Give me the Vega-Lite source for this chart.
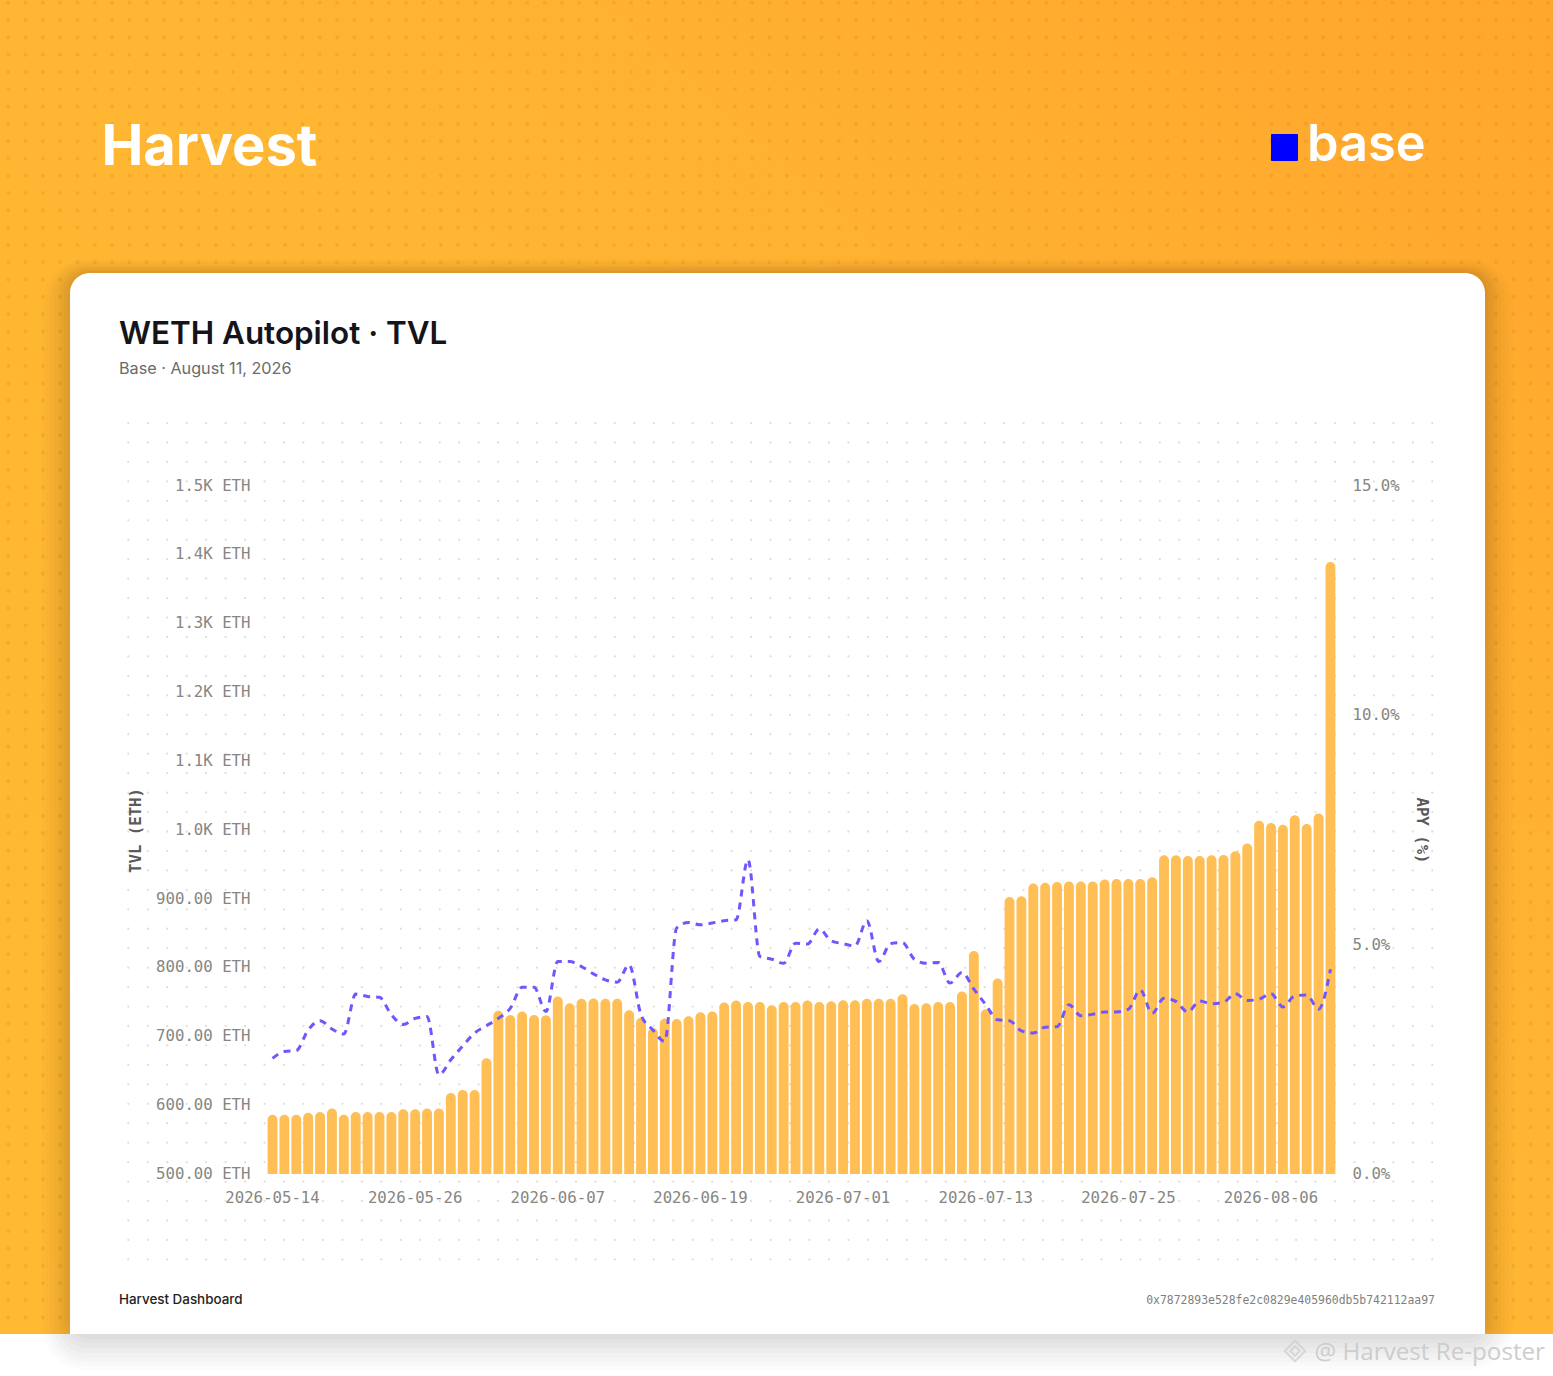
{
  "$schema": "https://vega.github.io/schema/vega-lite/v6.json",
  "width": 1553,
  "height": 1376,
  "padding": 0,
  "autosize": {"type": "none"},
  "background": "#ffffff",
  "config": {
    "view": {
      "stroke": null,
      "fill": {
        "gradient": "linear",
        "x1": 0, "y1": 1, "x2": 1, "y2": 0,
        "stops": [
          {"offset": 0, "color": "#FFBA33"},
          {"offset": 0.55, "color": "#FFB632"},
          {"offset": 1, "color": "#FFA62D"}
        ]
      }
    }
  },
  "datasets": {
    "daily": [
      {"date": "2026-05-14", "tvl": 586, "apy": 2.52},
      {"date": "2026-05-15", "tvl": 586, "apy": 2.67},
      {"date": "2026-05-16", "tvl": 586, "apy": 2.69},
      {"date": "2026-05-17", "tvl": 589, "apy": 3.14},
      {"date": "2026-05-18", "tvl": 590, "apy": 3.34},
      {"date": "2026-05-19", "tvl": 595, "apy": 3.16},
      {"date": "2026-05-20", "tvl": 586, "apy": 3.05},
      {"date": "2026-05-21", "tvl": 590, "apy": 3.92},
      {"date": "2026-05-22", "tvl": 590, "apy": 3.87},
      {"date": "2026-05-23", "tvl": 590, "apy": 3.85},
      {"date": "2026-05-24", "tvl": 590, "apy": 3.47},
      {"date": "2026-05-25", "tvl": 594, "apy": 3.26},
      {"date": "2026-05-26", "tvl": 594, "apy": 3.39},
      {"date": "2026-05-27", "tvl": 595, "apy": 3.43},
      {"date": "2026-05-28", "tvl": 595, "apy": 2.16},
      {"date": "2026-05-29", "tvl": 617.5, "apy": 2.49},
      {"date": "2026-05-30", "tvl": 622, "apy": 2.79},
      {"date": "2026-05-31", "tvl": 622, "apy": 3.07},
      {"date": "2026-06-01", "tvl": 668, "apy": 3.23},
      {"date": "2026-06-02", "tvl": 737, "apy": 3.39},
      {"date": "2026-06-03", "tvl": 731, "apy": 3.61},
      {"date": "2026-06-04", "tvl": 736, "apy": 4.07},
      {"date": "2026-06-05", "tvl": 731, "apy": 4.07},
      {"date": "2026-06-06", "tvl": 730.5, "apy": 3.54},
      {"date": "2026-06-07", "tvl": 758, "apy": 4.63},
      {"date": "2026-06-08", "tvl": 748, "apy": 4.63},
      {"date": "2026-06-09", "tvl": 754.5, "apy": 4.52},
      {"date": "2026-06-10", "tvl": 755, "apy": 4.36},
      {"date": "2026-06-11", "tvl": 754.5, "apy": 4.23},
      {"date": "2026-06-12", "tvl": 754.5, "apy": 4.18},
      {"date": "2026-06-13", "tvl": 738, "apy": 4.56},
      {"date": "2026-06-14", "tvl": 727, "apy": 3.47},
      {"date": "2026-06-15", "tvl": 712, "apy": 3.14},
      {"date": "2026-06-16", "tvl": 726, "apy": 2.89},
      {"date": "2026-06-17", "tvl": 725, "apy": 5.36},
      {"date": "2026-06-18", "tvl": 729, "apy": 5.48},
      {"date": "2026-06-19", "tvl": 735, "apy": 5.43},
      {"date": "2026-06-20", "tvl": 736, "apy": 5.47},
      {"date": "2026-06-21", "tvl": 749, "apy": 5.52},
      {"date": "2026-06-22", "tvl": 752, "apy": 5.54},
      {"date": "2026-06-23", "tvl": 750, "apy": 6.85},
      {"date": "2026-06-24", "tvl": 750, "apy": 4.74},
      {"date": "2026-06-25", "tvl": 745, "apy": 4.68},
      {"date": "2026-06-26", "tvl": 750, "apy": 4.59},
      {"date": "2026-06-27", "tvl": 750, "apy": 5.03},
      {"date": "2026-06-28", "tvl": 752, "apy": 5.01},
      {"date": "2026-06-29", "tvl": 750, "apy": 5.34},
      {"date": "2026-06-30", "tvl": 751, "apy": 5.08},
      {"date": "2026-07-01", "tvl": 752.5, "apy": 5.02},
      {"date": "2026-07-02", "tvl": 752.5, "apy": 4.97},
      {"date": "2026-07-03", "tvl": 754.5, "apy": 5.52},
      {"date": "2026-07-04", "tvl": 754.5, "apy": 4.63},
      {"date": "2026-07-05", "tvl": 754.5, "apy": 5.02},
      {"date": "2026-07-06", "tvl": 761, "apy": 5.04},
      {"date": "2026-07-07", "tvl": 747, "apy": 4.68},
      {"date": "2026-07-08", "tvl": 748, "apy": 4.59},
      {"date": "2026-07-09", "tvl": 750, "apy": 4.61},
      {"date": "2026-07-10", "tvl": 750, "apy": 4.16},
      {"date": "2026-07-11", "tvl": 765, "apy": 4.39},
      {"date": "2026-07-12", "tvl": 824, "apy": 4.03},
      {"date": "2026-07-13", "tvl": 739.5, "apy": 3.69},
      {"date": "2026-07-14", "tvl": 784, "apy": 3.36},
      {"date": "2026-07-15", "tvl": 902.5, "apy": 3.34},
      {"date": "2026-07-16", "tvl": 903.5, "apy": 3.12},
      {"date": "2026-07-17", "tvl": 922, "apy": 3.07},
      {"date": "2026-07-18", "tvl": 923, "apy": 3.2},
      {"date": "2026-07-19", "tvl": 924, "apy": 3.21},
      {"date": "2026-07-20", "tvl": 925, "apy": 3.69},
      {"date": "2026-07-21", "tvl": 925, "apy": 3.45},
      {"date": "2026-07-22", "tvl": 925, "apy": 3.48},
      {"date": "2026-07-23", "tvl": 927.7, "apy": 3.53},
      {"date": "2026-07-24", "tvl": 928.7, "apy": 3.53},
      {"date": "2026-07-25", "tvl": 928.7, "apy": 3.59},
      {"date": "2026-07-26", "tvl": 928.7, "apy": 4.01},
      {"date": "2026-07-27", "tvl": 931, "apy": 3.5},
      {"date": "2026-07-28", "tvl": 963, "apy": 3.83},
      {"date": "2026-07-29", "tvl": 963, "apy": 3.76},
      {"date": "2026-07-30", "tvl": 962, "apy": 3.53},
      {"date": "2026-07-31", "tvl": 962, "apy": 3.77},
      {"date": "2026-08-01", "tvl": 963, "apy": 3.71},
      {"date": "2026-08-02", "tvl": 963.5, "apy": 3.74},
      {"date": "2026-08-03", "tvl": 969, "apy": 3.93},
      {"date": "2026-08-04", "tvl": 980, "apy": 3.78},
      {"date": "2026-08-05", "tvl": 1013, "apy": 3.81},
      {"date": "2026-08-06", "tvl": 1010, "apy": 3.93},
      {"date": "2026-08-07", "tvl": 1007.5, "apy": 3.64},
      {"date": "2026-08-08", "tvl": 1021, "apy": 3.88},
      {"date": "2026-08-09", "tvl": 1008.5, "apy": 3.9},
      {"date": "2026-08-10", "tvl": 1023.5, "apy": 3.59},
      {"date": "2026-08-11", "tvl": 1389, "apy": 4.46}
    ],
    "pageDots": [
      {"col": 0}, {"col": 1}, {"col": 2}, {"col": 3}, {"col": 4}, {"col": 5}, {"col": 6}, {"col": 7}, {"col": 8}, {"col": 9},
      {"col": 10}, {"col": 11}, {"col": 12}, {"col": 13}, {"col": 14}, {"col": 15}, {"col": 16}, {"col": 17}, {"col": 18}, {"col": 19},
      {"col": 20}, {"col": 21}, {"col": 22}, {"col": 23}, {"col": 24}, {"col": 25}, {"col": 26}, {"col": 27}, {"col": 28}, {"col": 29},
      {"col": 30}, {"col": 31}, {"col": 32}, {"col": 33}, {"col": 34}, {"col": 35}, {"col": 36}, {"col": 37}, {"col": 38}, {"col": 39},
      {"col": 40}, {"col": 41}, {"col": 42}, {"col": 43}, {"col": 44}, {"col": 45}, {"col": 46}, {"col": 47}, {"col": 48}, {"col": 49},
      {"col": 50}, {"col": 51}, {"col": 52}, {"col": 53}, {"col": 54}, {"col": 55}, {"col": 56}, {"col": 57}, {"col": 58}, {"col": 59},
      {"col": 60}, {"col": 61}, {"col": 62}, {"col": 63}, {"col": 64}, {"col": 65}, {"col": 66}, {"col": 67}, {"col": 68}, {"col": 69},
      {"col": 70}, {"col": 71}, {"col": 72}, {"col": 73}, {"col": 74}, {"col": 75}, {"col": 76}, {"col": 77}, {"col": 78}, {"col": 79},
      {"col": 80}, {"col": 81}, {"col": 82}, {"col": 83}, {"col": 84}, {"col": 85}, {"col": 86}, {"col": 87}, {"col": 88}, {"col": 89}
    ],
    "cardDots": [
      {"col": 0}, {"col": 1}, {"col": 2}, {"col": 3}, {"col": 4}, {"col": 5}, {"col": 6}, {"col": 7}, {"col": 8}, {"col": 9},
      {"col": 10}, {"col": 11}, {"col": 12}, {"col": 13}, {"col": 14}, {"col": 15}, {"col": 16}, {"col": 17}, {"col": 18}, {"col": 19},
      {"col": 20}, {"col": 21}, {"col": 22}, {"col": 23}, {"col": 24}, {"col": 25}, {"col": 26}, {"col": 27}, {"col": 28}, {"col": 29},
      {"col": 30}, {"col": 31}, {"col": 32}, {"col": 33}, {"col": 34}, {"col": 35}, {"col": 36}, {"col": 37}, {"col": 38}, {"col": 39},
      {"col": 40}, {"col": 41}, {"col": 42}, {"col": 43}, {"col": 44}, {"col": 45}, {"col": 46}, {"col": 47}, {"col": 48}, {"col": 49},
      {"col": 50}, {"col": 51}, {"col": 52}, {"col": 53}, {"col": 54}, {"col": 55}, {"col": 56}, {"col": 57}, {"col": 58}, {"col": 59},
      {"col": 60}, {"col": 61}, {"col": 62}, {"col": 63}, {"col": 64}, {"col": 65}, {"col": 66}, {"col": 67}
    ]
  },
  "resolve": {"scale": {"x": "independent", "y": "independent"}},
  "layer": [
    {
      "data": {"name": "pageDots"},
      "mark": {"type": "rule", "color": "#B06A00", "opacity": 0.15, "strokeWidth": 4, "strokeCap": "round", "strokeDash": [0.1, 17.2]},
      "encoding": {
        "x": {"field": "col", "type": "quantitative", "axis": null, "scale": {"domain": [0, 89], "range": [8.3, 1548]}},
        "y": {"value": 2.7},
        "y2": {"value": 1334}
      }
    },
    {"data": {"values": [{"part": "strip"}]}, "mark": {"type": "rect", "color": "#ffffff"}, "encoding": {"x": {"value": 0}, "x2": {"value": 1553}, "y": {"value": 1334}, "y2": {"value": 1376}}},
    {"data": {"values": [{"part": "shadow"}]}, "mark": {"type": "rect", "color": "#000000", "opacity": 0.01, "cornerRadius": 44}, "encoding": {"x": {"value": 42}, "x2": {"value": 1513}, "y": {"value": 259}, "y2": {"value": 1370}}},
    {"data": {"values": [{"part": "shadow"}]}, "mark": {"type": "rect", "color": "#000000", "opacity": 0.012, "cornerRadius": 40}, "encoding": {"x": {"value": 46}, "x2": {"value": 1509}, "y": {"value": 261}, "y2": {"value": 1366}}},
    {"data": {"values": [{"part": "shadow"}]}, "mark": {"type": "rect", "color": "#000000", "opacity": 0.014, "cornerRadius": 36}, "encoding": {"x": {"value": 50}, "x2": {"value": 1505}, "y": {"value": 263}, "y2": {"value": 1362}}},
    {"data": {"values": [{"part": "shadow"}]}, "mark": {"type": "rect", "color": "#000000", "opacity": 0.016, "cornerRadius": 32}, "encoding": {"x": {"value": 54}, "x2": {"value": 1501}, "y": {"value": 265}, "y2": {"value": 1358}}},
    {"data": {"values": [{"part": "shadow"}]}, "mark": {"type": "rect", "color": "#000000", "opacity": 0.018, "cornerRadius": 28}, "encoding": {"x": {"value": 58}, "x2": {"value": 1497}, "y": {"value": 267}, "y2": {"value": 1353}}},
    {"data": {"values": [{"part": "shadow"}]}, "mark": {"type": "rect", "color": "#000000", "opacity": 0.018, "cornerRadius": 26}, "encoding": {"x": {"value": 61}, "x2": {"value": 1494}, "y": {"value": 268}, "y2": {"value": 1348}}},
    {"data": {"values": [{"part": "shadow"}]}, "mark": {"type": "rect", "color": "#000000", "opacity": 0.02, "cornerRadius": 24}, "encoding": {"x": {"value": 64}, "x2": {"value": 1491}, "y": {"value": 270}, "y2": {"value": 1343}}},
    {"data": {"values": [{"part": "shadow"}]}, "mark": {"type": "rect", "color": "#000000", "opacity": 0.02, "cornerRadius": 22}, "encoding": {"x": {"value": 67}, "x2": {"value": 1488}, "y": {"value": 271}, "y2": {"value": 1339}}},
    {"data": {"values": [{"part": "card"}]}, "mark": {"type": "rect", "color": "#ffffff", "cornerRadiusTopLeft": 20, "cornerRadiusTopRight": 20}, "encoding": {"x": {"value": 70}, "x2": {"value": 1485}, "y": {"value": 273}, "y2": {"value": 1334}}},
    {
      "data": {"name": "cardDots"},
      "mark": {"type": "rule", "color": "#DEDEDB", "strokeWidth": 2.2, "strokeCap": "round", "strokeDash": [0.1, 19.35]},
      "encoding": {
        "x": {"field": "col", "type": "quantitative", "axis": null, "scale": {"domain": [0, 67], "range": [128.3, 1432.3]}},
        "y": {"value": 423},
        "y2": {"value": 1264}
      }
    },
    {
      "data": {"name": "daily"},
      "mark": {"type": "bar", "color": "#FFBF55", "cornerRadiusTopLeft": 5, "cornerRadiusTopRight": 5},
      "encoding": {
        "x": {
          "field": "date",
          "type": "nominal",
          "scale": {"type": "band", "range": [266.56, 1336.4], "paddingInner": 0.17, "paddingOuter": 0.085},
          "axis": {
            "title": null,
            "orient": "bottom",
            "offset": -196,
            "zindex": 1,
            "domain": false,
            "ticks": false,
            "grid": false,
            "labelAngle": 0,
            "labelPadding": 10,
            "labelOverlap": false,
            "labelBound": false,
            "labelFlush": false,
            "labelFont": "DejaVu Sans Mono",
            "labelFontSize": 15.7,
            "labelColor": "#868682",
            "values": ["2026-05-14", "2026-05-26", "2026-06-07", "2026-06-19", "2026-07-01", "2026-07-13", "2026-07-25", "2026-08-06"]
          }
        },
        "y": {
          "field": "tvl",
          "type": "quantitative",
          "scale": {"domain": [500, 1500], "range": [1174, 485.6], "nice": false, "zero": false},
          "axis": {
            "title": "TVL (ETH)",
            "orient": "left",
            "offset": -250,
            "zindex": 1,
            "domain": false,
            "ticks": false,
            "grid": false,
            "labelPadding": 0,
            "labelOffset": -0.5,
            "labelFont": "DejaVu Sans Mono",
            "labelFontSize": 15.7,
            "labelColor": "#868682",
            "labelOverlap": false,
            "labelBound": false,
            "labelFlush": false,
            "values": [500, 600, 700, 800, 900, 1000, 1100, 1200, 1300, 1400, 1500],
            "labelExpr": "datum.value >= 1000 ? format(datum.value / 1000, '.1f') + 'K ETH' : format(datum.value, '.2f') + ' ETH'",
            "titleFont": "DejaVu Sans Mono",
            "titleFontSize": 15.7,
            "titleFontWeight": 600,
            "titleColor": "#5A5A5A",
            "titleAngle": -90,
            "titleAlign": "center",
            "titleBaseline": "middle",
            "titleX": -115,
            "titleY": 830
          }
        },
        "y2": {"datum": 500}
      }
    },
    {
      "data": {"name": "daily"},
      "mark": {"type": "line", "color": "#6E57FF", "strokeWidth": 3, "strokeDash": [7, 6], "interpolate": "monotone"},
      "encoding": {
        "x": {
          "field": "date",
          "type": "nominal",
          "axis": null,
          "scale": {"type": "band", "range": [266.56, 1336.4], "paddingInner": 0.17, "paddingOuter": 0.085}
        },
        "y": {
          "field": "apy",
          "type": "quantitative",
          "scale": {"domain": [0, 15], "range": [1174, 485.6], "nice": false},
          "axis": {
            "title": "APY (%)",
            "orient": "right",
            "offset": -201,
            "zindex": 1,
            "domain": false,
            "ticks": false,
            "grid": false,
            "labelPadding": 0,
            "labelOffset": -0.5,
            "labelFont": "DejaVu Sans Mono",
            "labelFontSize": 15.7,
            "labelColor": "#868682",
            "labelOverlap": false,
            "labelBound": false,
            "labelFlush": false,
            "values": [0, 5, 10, 15],
            "labelExpr": "format(datum.value, '.1f') + '%'",
            "titleFont": "DejaVu Sans Mono",
            "titleFontSize": 15.7,
            "titleFontWeight": 600,
            "titleColor": "#5A5A5A",
            "titleAngle": 90,
            "titleAlign": "center",
            "titleBaseline": "middle",
            "titleX": 69,
            "titleY": 830
          }
        }
      }
    },
    {"data": {"values": [{"part": "chain"}]}, "mark": {"type": "rect", "color": "#0000FF", "cornerRadius": 1}, "encoding": {"x": {"value": 1271}, "x2": {"value": 1298}, "y": {"value": 134}, "y2": {"value": 161}}},
    {"data": {"values": [{"label": "Harvest"}]}, "mark": {"type": "text", "align": "left", "baseline": "alphabetic", "font": "Inter", "fontSize": 56, "fontWeight": 700, "color": "#ffffff"}, "encoding": {"text": {"field": "label"}, "x": {"value": 101.5}, "y": {"value": 165}}},
    {"data": {"values": [{"label": "base"}]}, "mark": {"type": "text", "align": "left", "baseline": "alphabetic", "font": "Inter", "fontSize": 50.5, "fontWeight": 600, "color": "#ffffff"}, "encoding": {"text": {"field": "label"}, "x": {"value": 1307}, "y": {"value": 161}}},
    {"data": {"values": [{"label": "WETH Autopilot · TVL"}]}, "mark": {"type": "text", "align": "left", "baseline": "alphabetic", "font": "Inter", "fontSize": 31.4, "fontWeight": 600, "color": "#14141A"}, "encoding": {"text": {"field": "label"}, "x": {"value": 119}, "y": {"value": 344}}},
    {"data": {"values": [{"label": "Base · August 11, 2026"}]}, "mark": {"type": "text", "align": "left", "baseline": "alphabetic", "font": "Inter", "fontSize": 16.2, "color": "#6B6B6B"}, "encoding": {"text": {"field": "label"}, "x": {"value": 119}, "y": {"value": 374}}},
    {"data": {"values": [{"label": "Harvest Dashboard"}]}, "mark": {"type": "text", "align": "left", "baseline": "alphabetic", "font": "Inter", "fontSize": 13.4, "fontWeight": 500, "color": "#222222"}, "encoding": {"text": {"field": "label"}, "x": {"value": 119}, "y": {"value": 1304}}},
    {"data": {"values": [{"label": "0x7872893e528fe2c0829e405960db5b742112aa97"}]}, "mark": {"type": "text", "align": "right", "baseline": "alphabetic", "font": "DejaVu Sans Mono", "fontSize": 11.43, "color": "#7F7F7C"}, "encoding": {"text": {"field": "label"}, "x": {"value": 1435}, "y": {"value": 1304}}},
    {"data": {"values": [{"label": "@ Harvest Re-poster"}]}, "mark": {"type": "text", "align": "right", "baseline": "alphabetic", "font": "Open Sans", "fontSize": 24.2, "color": "#CDCDCD"}, "encoding": {"text": {"field": "label"}, "x": {"value": 1545}, "y": {"value": 1360}}},
    {"data": {"values": [{"part": "mark"}]}, "mark": {"type": "point", "shape": "diamond", "color": "#CDCDCD", "strokeWidth": 2, "size": 420, "filled": false}, "encoding": {"x": {"value": 1295}, "y": {"value": 1351}}},
    {"data": {"values": [{"part": "mark"}]}, "mark": {"type": "point", "shape": "diamond", "color": "#CDCDCD", "strokeWidth": 2, "size": 90, "filled": false}, "encoding": {"x": {"value": 1295}, "y": {"value": 1351}}}
  ]
}
